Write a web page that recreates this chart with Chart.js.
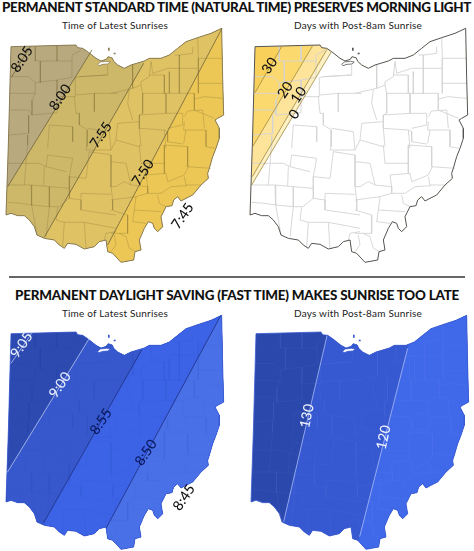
<!DOCTYPE html>
<html><head><meta charset="utf-8">
<script src="https://cdn.jsdelivr.net/npm/chart.js@4"></script>
<style>
html,body{margin:0;padding:0;background:#fff;width:474px;height:551px;overflow:hidden;font-family:Lato,sans-serif}
canvas{position:absolute}
.t{position:absolute;white-space:nowrap;color:#111}
.h{font-weight:900;font-size:13.4px;line-height:18px}
.s{font-weight:400;font-size:10px;line-height:14px;color:#222;transform:translateX(-50%);letter-spacing:.2px}
.rule{position:absolute;left:9px;top:276px;width:456px;height:1.5px;background:#666}
</style></head><body>
<div class="t h" data-w="469" style="left:2px;top:-2px">PERMANENT STANDARD TIME (NATURAL TIME) PRESERVES MORNING LIGHT</div>
<div class="t s" style="left:115px;top:18px">Time of Latest Sunrises</div>
<div class="t s" style="left:358px;top:18px">Days with Post-8am Sunrise</div>
<div class="rule"></div>
<div class="t h" data-w="444" style="left:15px;top:286px">PERMANENT DAYLIGHT SAVING (FAST TIME) MAKES SUNRISE TOO LATE</div>
<div class="t s" style="left:115px;top:306px">Time of Latest Sunrises</div>
<div class="t s" style="left:358px;top:306px">Days with Post-8am Sunrise</div>
<canvas id="c1" width="229" height="250" style="left:1px;top:20px"></canvas>
<canvas id="c2" width="229" height="250" style="left:245px;top:20px"></canvas>
<canvas id="c3" width="229" height="250" style="left:1px;top:307px"></canvas>
<canvas id="c4" width="229" height="250" style="left:246px;top:307px"></canvas>
<script>
const OUTLINE=[[54,140],[249,135],[254,143],[269,145],[284,155],[309,175],[324,183],[340,178],[345,170],[358,174],[362,184],[374,195],[394,205],[414,195],[454,183],[469,175],[504,175],[529,165],[554,145],[579,125],[614,113],[654,100],[686,85],[689,235],[692,345],[674,355],[666,360],[679,385],[679,415],[669,445],[659,470],[649,505],[644,520],[646,535],[624,555],[599,585],[579,595],[564,603],[554,590],[542,600],[537,617],[519,620],[504,650],[509,680],[494,695],[484,685],[479,670],[466,665],[454,685],[439,720],[444,750],[426,755],[422,780],[384,787],[359,760],[344,755],[339,720],[319,725],[304,740],[274,747],[249,733],[224,730],[214,745],[199,735],[184,720],[154,715],[132,705],[124,680],[109,660],[94,647],[74,647],[54,640],[39,645],[42,555],[46,435],[54,140]];
const BAY=[[314,193],[322,186],[340,184],[352,186],[345,192],[330,193],[318,197],[314,193]];
const ISLAND_A=[[345,143],[350,143],[350,152],[345,152],[345,143]];
const ISLAND_B=[[362,158],[368,158],[368,163],[362,163],[362,158]];
const COUNTY_LINES=[
[[127,140],[127,183],[237,183],[237,165],[265,150]],[[192,138],[192,183]],
[[52,230],[107,230],[127,248],[192,240],[237,232],[237,183]],[[142,183],[142,248]],
[[192,240],[192,290],[247,290],[247,232],[262,230],[344,225],[344,195]],[[52,280],[127,280],[127,248]],
[[127,280],[117,300],[117,345],[192,338],[192,290]],[[50,330],[108,330],[117,345]],[[107,345],[107,400],[48,405]],
[[46,490],[94,490],[139,490],[159,500],[219,515]],[[104,405],[104,435],[99,490],[94,555]],[[154,500],[152,557]],
[[42,555],[114,555],[169,560],[229,565]],[[114,555],[116,615],[169,620],[195,620]],[[169,560],[169,620],[159,710]],
[[44,607],[84,610],[116,615]],[[116,615],[132,705]],[[229,565],[229,595],[194,623],[189,660],[214,667],[274,667]],
[[229,595],[264,600],[264,630],[369,645]],[[264,600],[264,580],[354,583]],[[214,667],[209,740]],[[274,667],[279,745]],
[[274,667],[369,685]],[[334,720],[339,700],[369,695]],[[164,465],[239,475],[229,530],[279,535],[289,455],[354,465]],
[[159,500],[164,465]],[[229,530],[229,565]],[[249,285],[304,280],[374,280]],[[244,290],[249,340],[259,340],[259,375]],
[[169,375],[239,380],[239,425]],[[169,375],[164,445]],[[284,385],[349,395],[354,450]],[[304,280],[304,335]],
[[259,375],[284,390],[282,440],[279,450]],[[259,230],[344,225]],[[419,195],[419,265],[354,280]],
[[419,265],[444,255],[444,245],[469,230],[474,185]],[[469,225],[514,225],[514,280]],[[444,255],[449,280],[519,280],[604,280]],
[[409,270],[404,310],[419,360]],[[449,280],[449,340],[439,345]],[[439,345],[519,340],[569,340]],[[519,280],[519,340]],
[[474,183],[479,220],[524,205],[554,205],[614,205]],[[544,165],[559,165],[599,160],[599,140]],[[559,165],[559,280]],
[[529,215],[529,280]],[[614,113],[616,175],[616,280]],[[616,175],[688,175]],[[616,250],[689,250]],
[[604,280],[604,330],[664,355]],[[604,297],[634,290],[689,295]],[[574,350],[584,333],[629,330],[634,385]],
[[574,365],[572,390],[639,390],[639,440]],[[524,385],[569,375],[569,340]],
[[439,345],[439,385],[514,390],[524,395],[524,425],[569,432]],[[374,370],[439,365]],[[374,370],[369,420],[439,440]],
[[439,385],[444,440]],[[514,390],[519,445]],[[579,390],[572,430]],[[639,440],[668,445]],
[[439,435],[444,490],[514,490]],[[514,435],[514,520]],[[584,440],[584,500],[654,505]],[[514,435],[584,440]],
[[354,485],[399,490],[414,555],[464,560],[459,525],[519,520]],[[519,520],[524,545],[574,525],[586,500]],
[[574,530],[579,555],[624,555]],[[464,580],[504,580],[534,560],[582,557]],
[[464,560],[464,580],[429,590],[424,630],[419,665],[459,670]],[[424,630],[504,635]],[[494,585],[499,610],[519,620]],
[[354,560],[369,560],[394,545],[414,555]],[[354,600],[429,590]],[[354,630],[404,645],[404,700],[354,700]],
[[379,700],[399,710],[409,745],[429,755]],[[364,705],[369,735],[354,755]],[[354,560],[359,600],[359,630]],[[354,465],[354,560]],
[[279,450],[354,450]],[[369,420],[354,450]]
];
const STD_TIME_LINES=[[[55,232],[112,140]],[[44,560],[297,150]],[[154,712],[452,190]],[[344,735],[687,85]]];
const STD_TIME_COLORS=['#b9a97e','#b9a97e','#cdb869','#dfc264','#ecc756'];
const STD_TIME_LABELS=[['8:05',87,178],['8:00',202,292],['7:55',324,405],['7:50',450,518],['7:45',569,648]];
const STD_DAY_LINES=[[[134,140],[54,278]],[[226,139],[47,440]],[[270,148],[46,530]],[[284,154],[44,555]]];
const STD_DAY_COLORS=['#f8d05a','#fbd96f','#fde49a','#fdf0c4','#ffffff'];
const STD_DAY_LABELS=[['30',98,197],['20',145,270],['10',185,285],['0',172,343]];
const DST_TIME_LINES=[[[54,229],[116,139]],[[43,556],[289,154]],[[151,709],[446,189]],[[339,724],[683,86]]];
const DST_TIME_COLORS=['#2c4ab0','#2c4ab0','#3658cc','#3c62e6','#4a70e8'];
const DST_TIME_LABELS=[['9:05',86,174],['9:00',201,294],['8:55',324,404],['8:50',459,497],['8:45',573,632]];
const DST_DAY_LINES=[[[267,146],[137,704]],[[509,184],[365,749]]];
const DST_DAY_COLORS=['#2b48ad','#3658d0','#4069ea'];
const DST_DAY_LABELS=[['130',207,387],['120',437,451]];

document.querySelectorAll('.h').forEach(e=>{
  const n=e.textContent.length,w=e.getBoundingClientRect().width;
  e.style.letterSpacing=((+e.dataset.w-w)/n)+'px';
});
const pts=a=>a.map(p=>({x:p[0],y:p[1]}));
// keep the part of the outline on the south-east side of a contour
function clipEast(poly,line){
  const [a,b]=line,raw=p=>(b[0]-a[0])*(p[1]-a[1])-(b[1]-a[1])*(p[0]-a[0]);
  const sign=raw([2000,2000])>0?1:-1,side=p=>sign*raw(p),out=[];
  for(let i=0;i<poly.length-1;i++){
    const p=poly[i],q=poly[i+1],sp=side(p),sq=side(q);
    if(sp>=0)out.push(p);
    if(sp*sq<0){const t=sp/(sp-sq);out.push([p[0]+t*(q[0]-p[0]),p[1]+t*(q[1]-p[1])]);}
  }
  if(out.length)out.push(out[0]);
  return out;
}
const labelPlugin={id:'contourLabels',afterDatasetsDraw(ch,_,o){
  const c=ch.ctx;c.save();
  c.font='500 14px Lato';c.textAlign='center';c.textBaseline='middle';
  o.items.forEach((l,i)=>{
    c.save();c.translate(ch.scales.x.getPixelForValue(l[1]),ch.scales.y.getPixelForValue(l[2]));
    c.rotate(o.angle*Math.PI/180);c.fillStyle=o.colors[i];c.fillText(l[0],0,0);c.restore();});
  c.restore();}};
function panel(id,o){
  const ds=[];let ord=1000;
  const add=(data,extra)=>ds.push(Object.assign({data:pts(data),showLine:true,pointRadius:0,borderWidth:0,fill:false,tension:0,clip:false,order:ord--},extra));
  add(OUTLINE,{backgroundColor:o.colors[0],fill:'shape'});
  o.lines.forEach((ln,i)=>add(clipEast(OUTLINE,ln),{backgroundColor:o.colors[i+1],fill:'shape'}));
  COUNTY_LINES.forEach(l=>add(l,{borderColor:o.county,borderWidth:o.countyW}));
  add(BAY,{backgroundColor:'#fff',fill:'shape',borderColor:o.edge,borderWidth:.8});
  add(ISLAND_A,{backgroundColor:o.edge,fill:'shape'});add(ISLAND_B,{backgroundColor:o.edge,fill:'shape'});
  add(OUTLINE,{borderColor:o.edge,borderWidth:o.edgeW});
  o.lines.forEach((ln,i)=>add(ln,{borderColor:o.lineColors[i],borderWidth:.8}));
  new Chart(document.getElementById(id),{type:'scatter',data:{datasets:ds},plugins:[labelPlugin],options:{
    responsive:false,animation:false,devicePixelRatio:1,layout:{padding:0},
    plugins:{legend:{display:false},tooltip:{enabled:false},contourLabels:{items:o.labels,angle:o.angle,colors:o.labelColors}},
    scales:{x:{type:'linear',min:24,max:711,display:false},y:{type:'linear',min:60,max:810,reverse:true,display:false}}}});
}
panel('c1',{lines:STD_TIME_LINES,colors:STD_TIME_COLORS,labels:STD_TIME_LABELS,angle:-56,
  county:'rgba(110,90,40,.3)',countyW:.8,edge:'#8a7d55',edgeW:1,lineColors:Array(4).fill('#6f6338'),labelColors:Array(5).fill('#111')});
panel('c2',{lines:STD_DAY_LINES,colors:STD_DAY_COLORS,labels:STD_DAY_LABELS,angle:-56,
  county:'#d4d4d4',countyW:.9,edge:'#555',edgeW:1,lineColors:Array(4).fill('#a08a3c'),labelColors:Array(4).fill('#111')});
panel('c3',{lines:DST_TIME_LINES,colors:DST_TIME_COLORS,labels:DST_TIME_LABELS,angle:-56,
  county:'rgba(30,50,140,.06)',countyW:.7,edge:'#3a5ad0',edgeW:.8,lineColors:['#b9c6f2','#b9c6f2','#1d2f80','#1d2f80'],
  labelColors:['#e8edff','#e8edff','#0b1a5e','#0b1a5e','#111']});
panel('c4',{lines:DST_DAY_LINES,colors:DST_DAY_COLORS,labels:DST_DAY_LABELS,angle:-78,
  county:'rgba(120,150,240,.12)',countyW:.7,edge:'#3a5ad0',edgeW:.8,lineColors:['#a9bbf5','#a9bbf5'],labelColors:['#eef2ff','#eef2ff']});
</script>
</body></html>
